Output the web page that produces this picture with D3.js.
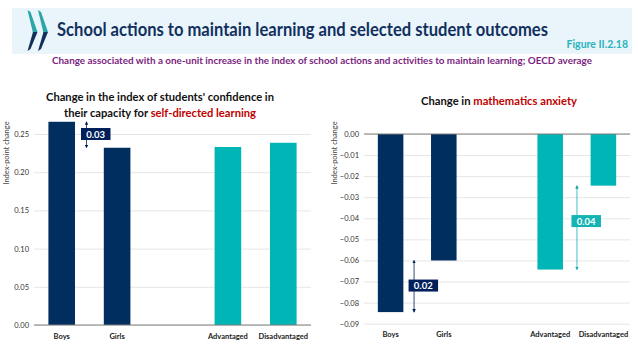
<!DOCTYPE html>
<html>
<head>
<meta charset="utf-8">
<script src="https://cdn.jsdelivr.net/npm/d3@7"></script>
<style>
    html, body { margin: 0; padding: 0; background: #fff; }
    svg { display: block; }
    text { font-family: Lato, "Open Sans", sans-serif; }
    .tick-label { font-size: 7.5px; fill: #333; }
    .cat-label { font-size: 7.5px; font-weight: 700; fill: #222; }
    .y-title { font-size: 7.5px; fill: #444; }
    .chart-title { font-size: 12px; font-weight: 700; fill: #111; }
    .chart-title tspan.hot { fill: #c00000; }
</style>
</head>
<body>
<div id="chart"></div>
<script>
const categories = ['Boys', 'Girls', '', 'Advantaged', 'Disadvantaged'];
const confidenceValues = [0.266, 0.232, null, 0.233, 0.2385];
const anxietyValues = [-0.0845, -0.06, null, -0.0643, -0.0245];
const confidenceTicks = [0, 0.05, 0.10, 0.15, 0.20, 0.25];
const anxietyTicks = [0, -0.01, -0.02, -0.03, -0.04, -0.05, -0.06, -0.07, -0.08, -0.09];
const confidenceGapLabels = ['0.03'];
const anxietyGapLabels = ['0.02', '0.04'];

const navy = '#002f5f';
const teal = '#00b5b5';
const barColour = (d) => (d === 'Boys' || d === 'Girls') ? navy : teal;

const svg = d3.select('#chart').append('svg').attr('width', 638).attr('height', 359);

const defs = svg.append('defs');
[['navy', '#00205b'], ['teal', '#1aa5a5']].forEach(([id, c]) => {
    defs.append('marker')
        .attr('id', `arrow-${id}`)
        .attr('viewBox', '0 0 6 6')
        .attr('refX', 5).attr('refY', 3)
        .attr('markerWidth', 4.5).attr('markerHeight', 4.5)
        .attr('orient', 'auto-start-reverse')
        .append('path')
        .attr('d', 'M0,0L6,3L0,6Z')
        .attr('fill', c);
});

// header band
svg.append('rect').attr('x', 12).attr('y', 8).attr('width', 620).attr('height', 46).attr('fill', '#e9f5fa');

// logo chevrons
const logo = svg.append('g');
[0, 10.5].forEach((dx) => {
    logo.append('path')
        .attr('d', `M${27.5 + dx},10 L${30.5 + dx},12 L${37.5 + dx},32 L${33 + dx},33 Z`)
        .attr('fill', '#2aa6a6');
    logo.append('path')
        .attr('d', `M${33 + dx},32 L${37.5 + dx},32 L${30.5 + dx},49 L${27.5 + dx},51 Z`)
        .attr('fill', '#12305a');
});

svg.append('text')
    .attr('x', 57).attr('y', 36)
    .attr('textLength', 491).attr('lengthAdjust', 'spacingAndGlyphs')
    .style('font-size', '18.5px').style('font-weight', 700).style('fill', '#12305f')
    .text('School actions to maintain learning and selected student outcomes');

svg.append('text')
    .attr('x', 628).attr('y', 47.5).attr('text-anchor', 'end')
    .style('font-size', '10.5px').style('font-weight', 700).style('fill', '#2ab3bd')
    .text('Figure II.2.18');

svg.append('text')
    .attr('x', 52).attr('y', 64)
    .attr('textLength', 540).attr('lengthAdjust', 'spacingAndGlyphs')
    .style('font-size', '10.3px').style('font-weight', 700).style('fill', '#7b1f80')
    .text('Change associated with a one-unit increase in the index of school actions and activities to maintain learning; OECD average');

function drawPanel(opts) {
    const g = svg.append('g');
    const x = d3.scaleBand().domain(categories).range(opts.xRange).paddingInner(0.52).paddingOuter(0.26);
    const y = d3.scaleLinear().domain(opts.domain).range(opts.yRange);
    const fmt = d3.format('.2f');

    const axisY = g.append('g')
        .attr('transform', `translate(${opts.xRange[0]},0)`)
        .call(d3.axisLeft(y).tickValues(opts.ticks).tickFormat(fmt)
            .tickSize(-(opts.xRange[1] - opts.xRange[0])).tickPadding(5));
    axisY.select('.domain').remove();
    axisY.selectAll('.tick line').attr('stroke', '#e6e6e6');
    axisY.selectAll('.tick text').attr('class', 'tick-label');

    g.selectAll('.bar')
        .data(categories.map((c, i) => ({ c, v: opts.values[i] })).filter((d) => d.v !== null))
        .enter()
        .append('rect')
        .attr('class', 'bar')
        .attr('x', (d) => x(d.c))
        .attr('width', x.bandwidth())
        .attr('y', (d) => Math.min(y(d.v), y(0)))
        .attr('height', (d) => Math.abs(y(d.v) - y(0)))
        .attr('fill', (d) => barColour(d.c));

    // zero line
    g.append('line')
        .attr('x1', opts.xRange[0]).attr('x2', opts.xRange[1])
        .attr('y1', y(0)).attr('y2', y(0))
        .attr('stroke', '#7f7f7f').attr('stroke-width', 1);

    g.selectAll('.cat-label')
        .data(categories.filter((c) => c))
        .enter()
        .append('text')
        .attr('class', 'cat-label')
        .attr('x', (d) => x(d) + x.bandwidth() / 2)
        .attr('y', opts.labelY)
        .attr('text-anchor', 'middle')
        .text((d) => d);

    g.append('text')
        .attr('class', 'y-title')
        .attr('transform', `translate(${opts.yTitleX},153) rotate(-90)`)
        .attr('text-anchor', 'middle')
        .text('Index-point change');

    return { g, x, y };
}

function drawGap(panel, gap) {
    const { g, x, y } = panel;
    const cx = x(gap.after) + x.bandwidth() + gap.offset;
    const id = gap.colour === navy ? 'navy' : 'teal';
    const fill = gap.colour === navy ? '#00205b' : '#14b4b4';
    g.append('line')
        .attr('x1', cx).attr('x2', cx)
        .attr('y1', y(gap.from)).attr('y2', y(gap.to))
        .attr('stroke', fill).attr('stroke-width', 0.8)
        .attr('marker-start', `url(#arrow-${id})`)
        .attr('marker-end', `url(#arrow-${id})`);
    g.append('rect')
        .attr('x', cx - 5.5).attr('width', 29.5)
        .attr('y', y(gap.mid) - 6).attr('height', 12)
        .attr('fill', fill);
    g.append('text')
        .attr('x', cx + 9.2).attr('y', y(gap.mid) + 3.5)
        .attr('text-anchor', 'middle')
        .style('font-size', '9.5px').style('font-weight', 700).style('fill', '#fff')
        .text(gap.label);
}

const left = drawPanel({
    values: confidenceValues,
    domain: [0, 0.25], yRange: [325, 134],
    xRange: [34, 311], ticks: confidenceTicks,
    labelY: 338.5, yTitleX: 8.5,
});
drawGap(left, { after: 'Boys', offset: 11.5, from: 0.266, to: 0.2322, mid: 0.25, label: confidenceGapLabels[0], colour: navy });

const right = drawPanel({
    values: anxietyValues,
    domain: [0, -0.09], yRange: [134, 323.7],
    xRange: [364, 630], ticks: anxietyTicks,
    labelY: 337, yTitleX: 336.5,
});
drawGap(right, { after: 'Boys', offset: 10.7, from: -0.06, to: -0.0845, mid: -0.0719, label: anxietyGapLabels[0], colour: navy });
drawGap(right, { after: 'Advantaged', offset: 14, from: -0.0245, to: -0.0643, mid: -0.0413, label: anxietyGapLabels[1], colour: teal });

// panel titles
svg.append('text').attr('class', 'chart-title')
    .attr('x', 46).attr('y', 101)
    .attr('textLength', 228).attr('lengthAdjust', 'spacingAndGlyphs')
    .text("Change in the index of students' confidence in");

const t1 = svg.append('text').attr('class', 'chart-title')
    .attr('x', 64).attr('y', 117)
    .attr('textLength', 192).attr('lengthAdjust', 'spacingAndGlyphs');
t1.append('tspan').text('their capacity for ');
t1.append('tspan').attr('class', 'hot').text('self-directed learning');

const t2 = svg.append('text').attr('class', 'chart-title')
    .attr('x', 421).attr('y', 105)
    .attr('textLength', 156).attr('lengthAdjust', 'spacingAndGlyphs');
t2.append('tspan').text('Change in ');
t2.append('tspan').attr('class', 'hot').text('mathematics anxiety');
</script>
</body>
</html>
